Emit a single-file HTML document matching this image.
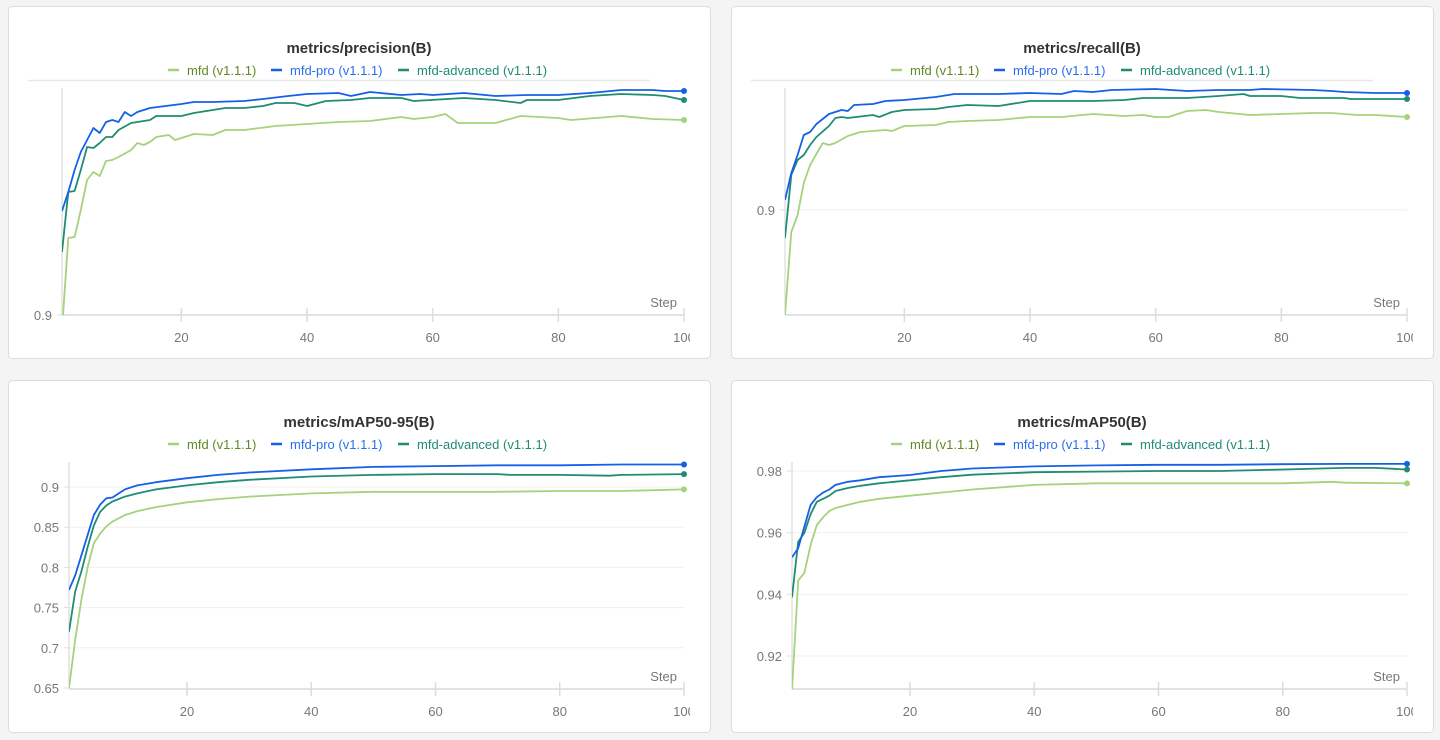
<!DOCTYPE html>
<html><head><meta charset="utf-8"><style>
body{margin:0;background:#f4f4f4;font-family:"Liberation Sans",sans-serif;}
svg{display:block}
</style></head><body>
<svg id="s" width="1440" height="740" xmlns="http://www.w3.org/2000/svg"></svg>
<script>
// ---- precision(B)
const precSteps_pro=[1,2,3,4,5,6,7,8,9,10,11,12,13,15,20,22,25,30,33,37,40,45,47,50,55,58,60,65,70,75,80,85,90,95,97,100];
const precVals_pro=[.9208,.9246,.929,.9326,.935,.9374,.9364,.9386,.939,.9386,.9406,.9398,.9406,.9414,.9422,.9426,.9426,.9428,.9432,.9438,.9442,.9444,.9438,.9446,.944,.9442,.944,.9444,.9438,.944,.944,.9444,.945,.945,.9448,.9448];
const precSteps_adv=[1,2,3,4,5,6,7,8,9,10,12,15,16,20,22,25,27,30,33,35,38,40,43,47,50,55,57,65,70,74,75,80,85,90,95,97,100];
const precVals_adv=[.9126,.9246,.9248,.929,.9336,.9334,.9344,.9356,.9356,.937,.9384,.939,.9398,.9398,.9404,.941,.9414,.9414,.9418,.9424,.9424,.9418,.9428,.943,.9434,.9434,.9428,.9434,.943,.9424,.943,.943,.9438,.9442,.944,.9438,.943];
const precSteps_mfd=[1,2,3,4,5,6,7,8,9,10,12,13,14,15,16,18,19,22,25,27,30,35,40,45,50,55,57,60,62,64,70,74,80,82,90,95,100];
const precVals_mfd=[.897,.9154,.9156,.921,.927,.9286,.9278,.9308,.931,.9316,.933,.9344,.934,.9346,.9356,.936,.935,.9362,.936,.937,.937,.9378,.9382,.9386,.9388,.9396,.9392,.9396,.9402,.9384,.9384,.9398,.9394,.939,.9398,.9392,.939];
const precTicks=[0.9];
// ---- recall(B)
const recSteps_pro=[1,2,3,4,5,6,8,10,11,12,15,17,20,25,28,35,40,45,47,50,53,60,65,70,75,77,85,88,90,95,100];
const recVals_pro=[.904,.9148,.922,.93,.9312,.9344,.9384,.94,.9396,.942,.9424,.9436,.944,.9452,.9464,.9464,.9468,.9464,.9476,.9472,.948,.9484,.9476,.948,.948,.9484,.948,.9476,.9472,.9468,.9468];
const recSteps_adv=[1,2,3,4,5,6,8,9,10,11,15,16,18,20,25,27,30,35,40,50,55,58,60,65,70,74,75,80,83,90,91,100];
const recVals_adv=[.8888,.914,.92,.922,.926,.9292,.9336,.9368,.9372,.9368,.938,.9372,.9392,.94,.9404,.9412,.942,.9416,.9436,.9436,.944,.9448,.9448,.9448,.9456,.9464,.9456,.9456,.9448,.9448,.9444,.9444];
const recSteps_mfd=[1,2,3,4,5,7,8,9,11,13,15,17,18,20,25,27,30,35,40,45,50,55,58,60,62,65,68,70,75,80,85,88,92,95,100];
const recVals_mfd=[.858,.8912,.898,.9108,.918,.9268,.926,.9268,.9296,.9312,.9316,.932,.9316,.9336,.934,.9352,.9356,.936,.9372,.9372,.9384,.9376,.938,.9372,.9372,.9396,.94,.9392,.938,.9384,.9388,.9388,.938,.938,.9372];
const recTicks=[0.9];
// ---- mAP50-95(B)
const m95Steps_pro=[1,2,3,4,5,6,7,8,10,12,15,20,25,30,40,50,60,70,80,90,100];
const m95Vals_pro=[.772,.79,.815,.84,.865,.878,.886,.887,.897,.902,.906,.911,.915,.918,.922,.925,.926,.927,.927,.928,.928];
const m95Steps_adv=[1,2,3,4,5,6,7,8,10,12,15,20,25,30,40,50,60,70,72,80,88,90,100];
const m95Vals_adv=[.72,.77,.795,.825,.852,.869,.877,.882,.888,.892,.897,.902,.906,.909,.913,.915,.916,.916,.915,.915,.914,.915,.916];
const m95Steps_mfd=[1,2,3,4,5,6,7,8,10,12,15,20,25,30,40,50,60,70,80,90,100];
const m95Vals_mfd=[.65,.71,.76,.80,.83,.842,.851,.857,.865,.87,.875,.881,.885,.888,.892,.894,.894,.894,.895,.895,.897];
const m95Ticks=[0.65,0.7,0.75,0.8,0.85,0.9];
// ---- mAP50(B)
const m50Steps_pro=[1,2,3,4,5,6,7,8,10,12,15,20,25,30,40,50,60,70,80,90,100];
const m50Vals_pro=[.952,.955,.962,.969,.9715,.973,.974,.9755,.9765,.977,.978,.9787,.98,.9808,.9815,.9818,.982,.982,.9822,.9823,.9823];
const m50Steps_adv=[1,2,3,4,5,6,7,8,10,12,15,20,25,30,40,50,60,70,80,90,95,100];
const m50Vals_adv=[.939,.957,.96,.966,.97,.971,.972,.9735,.9745,.9752,.976,.977,.978,.9788,.9796,.9798,.98,.98,.9805,.981,.981,.9805];
const m50Steps_mfd=[1,2,3,4,5,6,7,8,10,12,15,20,25,30,40,50,60,70,80,88,90,100];
const m50Vals_mfd=[.909,.9445,.947,.956,.9625,.965,.967,.968,.969,.97,.971,.972,.973,.974,.9755,.976,.976,.976,.976,.9765,.9762,.976];
const m50Ticks=[0.92,0.94,0.96,0.98];
const xTicks=[20,40,60,80,100];

const NS='http://www.w3.org/2000/svg';
const svg=document.getElementById('s');
function mk(tag,attrs,parent){const e=document.createElementNS(NS,tag);for(const k in attrs)e.setAttribute(k,attrs[k]);(parent||svg).appendChild(e);return e;}
const COL={mfd:'#a5d27c',pro:'#1660e8',adv:'#1f8c73'};
const TXT={mfd:'#5f8a24',pro:'#2a6ef0',adv:'#1f8c73'};
let cid=0;
function chart(o){
  const g=mk('g',{});
  
  
  const p=mk('rect',{x:o.px+0.5,y:o.py+0.5,width:702,height:352,rx:4,fill:'#fff',stroke:'#dcdcdc'},g);
  
  
  const cx=o.px+351;
  const t=mk('text',{x:cx,y:o.py+47,'text-anchor':'middle','font-size':15,'font-weight':'bold',fill:'#333'},g);
  t.textContent=o.title;
  
  
  const leg=[['mfd','mfd (v1.1.1)',o.px+160],['pro','mfd-pro (v1.1.1)',o.px+263],['adv','mfd-advanced (v1.1.1)',o.px+390]];
  leg.forEach(l=>{
    const lg=mk('g',{},g);
    
    
    mk('line',{x1:l[2],x2:l[2]+11,y1:o.py+64,y2:o.py+64,stroke:COL[l[0]],'stroke-width':2.5},lg);
    const tt=mk('text',{x:l[2]+19,y:o.py+69,'font-size':13,fill:TXT[l[0]]},lg);
    tt.textContent=l[1];
  });
  if(o.sep){const s=mk('line',{x1:o.px+20,x2:o.px+642,y1:o.py+74.5,y2:o.py+74.5,stroke:'#e8e8e8','stroke-width':1.5},g);
    }
  const X=s=>o.x0+(s-1)*(o.x1-o.x0)/99;
  const Y=v=>o.yb+(v-o.vb)*(o.yt-o.yb)/(o.vt-o.vb);
  const bottom=o.py+309;
  o.ticks.forEach(v=>{
    const y=Y(v);
    if(Math.abs(y-bottom)>2){const gl=mk('line',{x1:o.x0,x2:o.x1,y1:y,y2:y,stroke:'#efefef'},g);
      }
    mk('line',{x1:o.x0-5,x2:o.x0,y1:y,y2:y,stroke:'#ddd'},g);
    const tl=mk('text',{x:o.x0-10,y:y+5,'text-anchor':'end','font-size':13,fill:'#777'},g);
    tl.textContent=String(v);
    
    
  });
  mk('line',{x1:o.x0,x2:o.x0,y1:o.py+82,y2:bottom,stroke:'#e2e2e2','stroke-width':1.5},g);
  mk('line',{x1:o.x0,x2:o.x1,y1:bottom,y2:bottom,stroke:'#d8d8d8','stroke-width':1.5},g);
  const st=mk('text',{x:o.x1-7,y:bottom-8,'text-anchor':'end','font-size':13,fill:'#777'},g);
  st.textContent='Step';
  
  
  cid++;
  const cpx=mk('clipPath',{id:'lab'+cid},g);
  mk('rect',{x:o.px,y:o.py,width:682,height:352},cpx);
  xTicks.forEach(s=>{
    const x=X(s);
    mk('line',{x1:x,x2:x,y1:bottom-7,y2:bottom+7,stroke:'#ddd','stroke-width':1.5},g);
    const xl=mk('text',{x:x,y:bottom+27,'text-anchor':'middle','font-size':13,fill:'#777','clip-path':'url(#lab'+cid+')'},g);
    xl.textContent=String(s);
    
    
  });
  const cp=mk('clipPath',{id:'cp'+cid},g);
  mk('rect',{x:o.x0,y:o.py+78,width:o.x1-o.x0+6,height:bottom-o.py-78},cp);
  const lines=mk('g',{'clip-path':'url(#cp'+cid+')'},g);
  o.series.forEach(sr=>{
    const d=sr.steps.map((s,i)=>(i?'L':'M')+X(s).toFixed(1)+','+Y(sr.vals[i]).toFixed(1)).join(' ');
    const pa=mk('path',{d:d,fill:'none',stroke:COL[sr.k],'stroke-width':1.8,'stroke-linejoin':'round'},lines);
    
    
    const n=sr.steps.length-1;
    const dot=mk('circle',{cx:X(sr.steps[n]),cy:Y(sr.vals[n]),r:3,fill:COL[sr.k]},g);
    
    
  });
}
function ser(sm,vm,sp,vp,sa,va){return [{k:'mfd',steps:sm,vals:vm},{k:'adv',steps:sa,vals:va},{k:'pro',steps:sp,vals:vp}];}
chart({name:'precision',title:'metrics/precision(B)',px:8,py:6,sep:true,x0:62,x1:684,yb:315,vb:0.9,yt:65,vt:0.95,ticks:precTicks,
  series:ser(precSteps_mfd,precVals_mfd,precSteps_pro,precVals_pro,precSteps_adv,precVals_adv)});
chart({name:'recall',title:'metrics/recall(B)',px:731,py:6,sep:true,x0:785,x1:1407,yb:210,vb:0.9,yt:85,vt:0.95,ticks:recTicks,
  series:ser(recSteps_mfd,recVals_mfd,recSteps_pro,recVals_pro,recSteps_adv,recVals_adv)});
chart({name:'map50-95',title:'metrics/mAP50-95(B)',px:8,py:380,sep:false,x0:69,x1:684,yb:688,vb:0.65,yt:487,vt:0.9,ticks:m95Ticks,
  series:ser(m95Steps_mfd,m95Vals_mfd,m95Steps_pro,m95Vals_pro,m95Steps_adv,m95Vals_adv)});
chart({name:'map50',title:'metrics/mAP50(B)',px:731,py:380,sep:false,x0:792,x1:1407,yb:656,vb:0.92,yt:471,vt:0.98,ticks:m50Ticks,
  series:ser(m50Steps_mfd,m50Vals_mfd,m50Steps_pro,m50Vals_pro,m50Steps_adv,m50Vals_adv)});
</script>
</body></html>
